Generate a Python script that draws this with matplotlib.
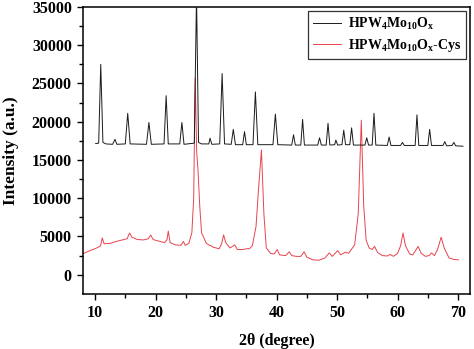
import numpy as np
import matplotlib
matplotlib.use("Agg")
import matplotlib.pyplot as plt

plt.rcParams['font.family'] = ['Liberation Serif', 'DejaVu Serif']
plt.rcParams['font.weight'] = 'bold'
plt.rcParams['mathtext.fontset'] = 'custom'
plt.rcParams['mathtext.rm'] = 'Liberation Serif:bold'
plt.rcParams['mathtext.it'] = 'Liberation Serif:bold'
plt.rcParams['mathtext.bf'] = 'Liberation Serif:bold'

# HPW4Mo10Ox, points (2theta, intensity)
black_x = [10.1, 10.6, 10.94, 11.3, 11.8, 12.9, 13.3, 13.6, 15.0, 15.4, 15.8,
           18.5, 18.9, 19.3, 21.4, 21.75, 22.1, 24.0, 24.35, 24.7, 26.4, 26.77,
           27.1, 27.6, 28.8, 29.0, 29.3, 30.6, 31.0, 31.4, 32.5, 32.85, 33.2,
           34.4, 34.7, 35.0, 36.1, 36.5, 36.9, 39.4, 39.8, 40.2, 42.5, 42.8,
           43.1, 44.0, 44.3, 44.6, 46.8, 47.1, 47.4, 48.2, 48.5, 48.8, 49.6,
           49.8, 50.1, 50.8, 51.1, 51.4, 52.1, 52.4, 52.7, 54.6, 54.9, 55.2,
           55.8, 56.1, 56.4, 58.3, 58.6, 58.9, 60.5, 60.8, 61.1, 62.9, 63.2,
           63.5, 65.0, 65.3, 65.6, 67.5, 67.8, 68.1, 69.0, 69.3, 69.6, 70.8]
black_y = [17150, 17200, 27500, 17300, 17100, 17050, 17700, 17050, 17100, 21100, 17100,
           17050, 19900, 17050, 17100, 23400, 17100, 17100, 19900, 17050, 17200, 36500,
           17300, 17100, 17100, 17850, 17050, 17100, 26300, 17100, 17050, 19000, 17000,
           17000, 18700, 17000, 17000, 23900, 17000, 17000, 21000, 17000, 16950, 18300,
           16950, 16950, 20300, 16950, 16950, 17900, 16950, 16950, 19800, 16950, 17000,
           17600, 16950, 17000, 18900, 17000, 17000, 19200, 16950, 16950, 17900, 16950,
           16950, 21100, 16950, 16900, 18000, 16900, 16900, 17300, 16900, 16900, 20900,
           16900, 16900, 19000, 16900, 16900, 17400, 16850, 16900, 17300, 16850, 16800]

# HPW4Mo10Ox-Cys
red_x = [8.0, 9.0, 10.0, 10.9, 11.2, 11.5, 12.5, 13.5, 14.5, 15.3, 15.7, 16.1,
         17.0, 18.0, 18.8, 19.2, 19.6, 20.5, 21.5, 21.9, 22.1, 22.4, 23.3, 24.2,
         24.6, 24.9, 25.5, 26.0, 26.3, 26.55, 26.8, 27.0, 27.3, 27.6, 28.0, 28.1,
         28.4, 29.0, 29.2, 29.5, 30.5, 30.9, 31.25, 31.6, 32.3, 33.1, 33.5, 34.5,
         35.0, 35.5, 36.0, 36.6, 37.0, 37.5, 37.9, 38.3, 39.0, 39.6, 40.1, 40.5,
         41.5, 42.1, 42.5, 43.3, 44.0, 44.55, 45.0, 46.0, 47.0, 48.0, 48.7, 49.2,
         50.1, 50.6, 51.4, 51.9, 52.9, 53.5, 54.0, 54.4, 54.8, 55.3, 55.8, 56.2,
         56.7, 57.5, 58.3, 58.8, 59.3, 60.0, 60.5, 60.9, 61.3, 62.0, 62.5, 63.4,
         63.9, 64.6, 65.2, 65.6, 66.1, 66.6, 67.2, 67.7, 68.5, 69.3, 70.05]
red_y = [2750, 3100, 3400, 3750, 4800, 4050, 4100, 4350, 4550, 4700, 5450, 4900,
         4600, 4550, 4700, 5200, 4600, 4400, 4200, 4600, 5700, 4200, 3900, 3850,
         4350, 3850, 4100, 5500, 10000, 25700, 16000, 13900, 9000, 5500, 4800, 4600,
         4100, 3800, 3800, 3600, 3400, 4000, 5200, 4200, 3500, 3900, 3300, 3300,
         3400, 3400, 3800, 6300, 11000, 16300, 8000, 3500, 2800, 2700, 3300, 2600,
         2500, 3000, 2500, 2400, 2400, 3000, 2300, 1950, 1900, 2200, 2850, 2400,
         3150, 2600, 2950, 2800, 3900, 8000, 20200, 9000, 4500, 3500, 3300, 3700,
         2900, 2500, 2450, 2650, 2400, 2800, 3800, 5450, 3800, 2700, 2600, 3700,
         2800, 2400, 2500, 2850, 2500, 3300, 4900, 3500, 2200, 2000, 1950]

labels = [r'HPW$_4$Mo$_{10}$O$_x$', r'HPW$_4$Mo$_{10}$O$_x$-Cys']

fig = plt.figure(figsize=(4.74, 3.49), dpi=100)
ax = fig.add_axes([0.175, 0.158, 0.817, 0.822])

ax.plot(red_x, red_y, color='#e8434c', lw=0.7, label=labels[1], zorder=2)
ax.plot(black_x, black_y, color='#1a1a1a', lw=0.7, label=labels[0], zorder=3)

ax.set_xlim(8, 72)
ax.set_ylim(-2500, 35000)
ax.set_xticks([10, 20, 30, 40, 50, 60, 70])
ax.set_xticks(np.arange(15, 72, 10), minor=True)
ax.set_yticks(np.arange(0, 35001, 5000))
ax.set_yticks(np.arange(2500, 35000, 5000), minor=True)
ax.tick_params(which='both', direction='out', top=False, right=False,
               labelsize=11.5, width=1.0)
ax.tick_params(which='major', length=4.5)
ax.tick_params(which='minor', length=3)
for s in ax.spines.values():
    s.set_linewidth(1.1)

ax.set_xlabel('2θ (degree)', fontsize=11.5, fontweight='bold', labelpad=9)
ax.set_ylabel('Intensity (a.u.)', fontsize=12.5, fontweight='bold', labelpad=9)

h, l = ax.get_legend_handles_labels()
leg = ax.legend(h[::-1], l[::-1], loc='upper right', fontsize=10,
                frameon=True, fancybox=False, edgecolor='black',
                borderaxespad=0.3, handlelength=2.0, handletextpad=0.5,
                borderpad=0.35, labelspacing=0.35)
leg.get_frame().set_linewidth(0.9)

fig.savefig('out.png', dpi=100)
